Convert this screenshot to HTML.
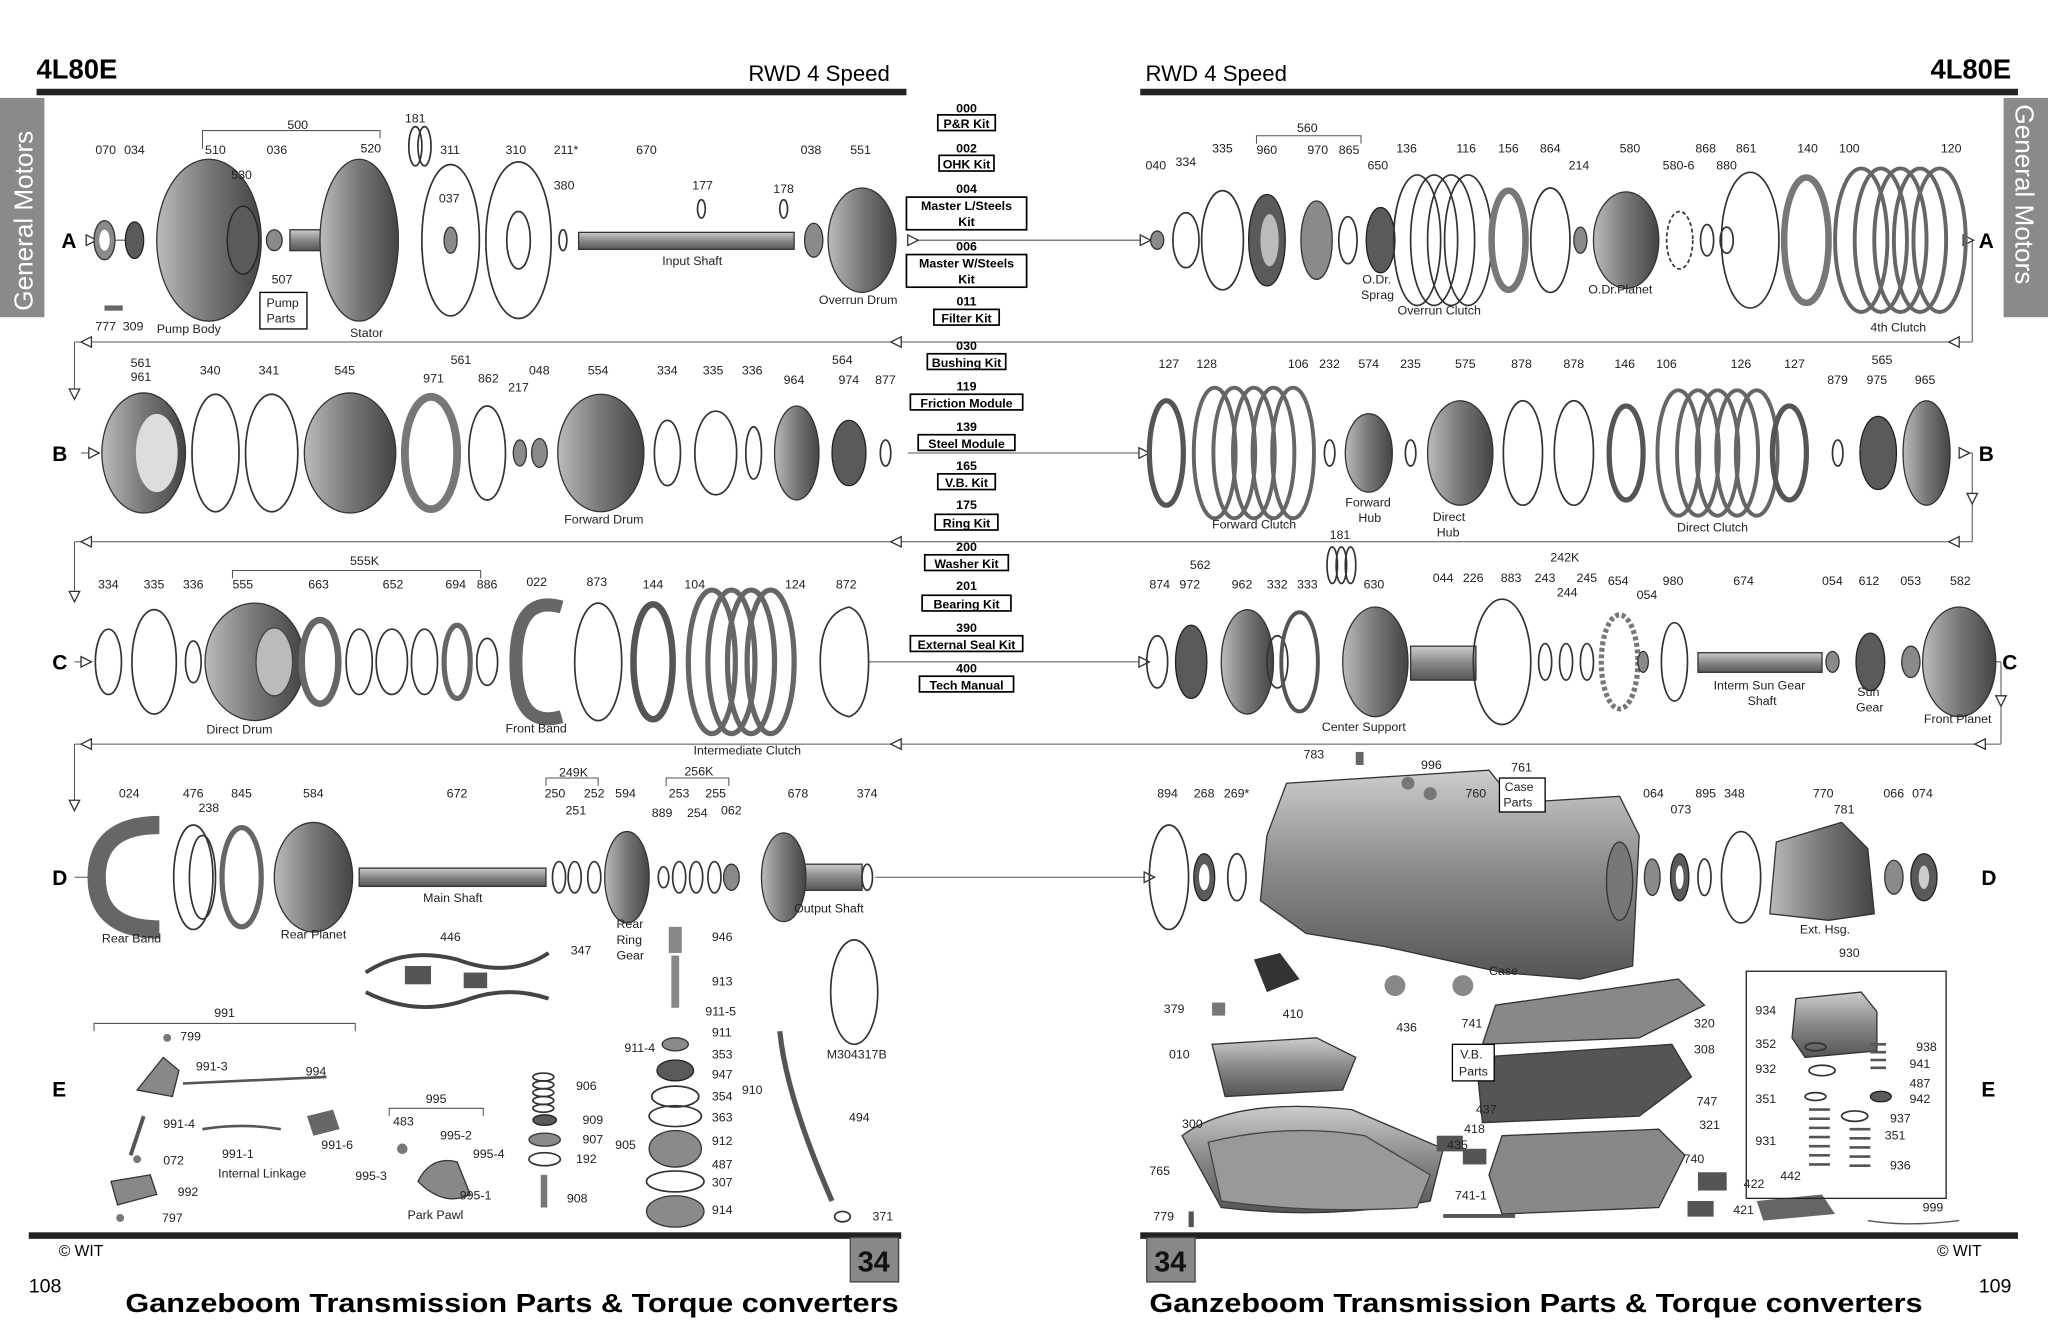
<!DOCTYPE html>
<html><head><meta charset="utf-8"><style>
html,body{margin:0;padding:0;background:#fff}
svg{display:block}
text{font-family:"Liberation Sans",sans-serif}
.n{font-size:9.5px;fill:#222}
.k{font-size:9.5px;font-weight:bold;fill:#000}
.r{fill:none;stroke:#333;stroke-width:1.3}
.g{fill:#8a8a8a;stroke:#333;stroke-width:1}
.d{fill:#5a5a5a;stroke:#222;stroke-width:1}
.l{fill:none;stroke:#555;stroke-width:0.8}
.t{font-size:9px;fill:#222}
</style></head><body>
<svg width="2048" height="1325" viewBox="0 0 1568 1015" preserveAspectRatio="none" xmlns="http://www.w3.org/2000/svg">
<defs>
<linearGradient id="gr" x1="0" x2="1"><stop offset="0" stop-color="#bbb"/><stop offset=".5" stop-color="#777"/><stop offset="1" stop-color="#444"/></linearGradient>
<linearGradient id="gs" x1="0" y1="0" x2="0" y2="1"><stop offset="0" stop-color="#ccc"/><stop offset=".5" stop-color="#888"/><stop offset="1" stop-color="#555"/></linearGradient>
</defs>
<rect width="1568" height="1015" fill="#fff"/>
<!-- headers -->
<text x="28" y="60" font-size="21" font-weight="bold">4L80E</text>
<text x="573" y="62" font-size="17">RWD 4 Speed</text>
<text x="877" y="62" font-size="17">RWD 4 Speed</text>
<text x="1478" y="60" font-size="21" font-weight="bold">4L80E</text>
<rect x="28" y="68" width="666" height="5" fill="#222"/>
<rect x="873" y="68" width="672" height="5" fill="#222"/>
<rect x="0" y="75" width="34" height="168" fill="#8a8a8a"/>
<text transform="translate(25,238) rotate(-90)" font-size="20" fill="#fff">General Motors</text>
<rect x="1534" y="75" width="34" height="168" fill="#8a8a8a"/>
<text transform="translate(1543,80) rotate(90)" font-size="20" fill="#fff">General Motors</text>
<!-- row letters -->
<g font-size="16" font-weight="bold">
<text x="47" y="190">A</text><text x="40" y="353">B</text><text x="40" y="513">C</text><text x="40" y="678">D</text><text x="40" y="840">E</text>
<text x="1515" y="190">A</text><text x="1515" y="353">B</text><text x="1533" y="513">C</text><text x="1517" y="678">D</text><text x="1517" y="840">E</text>
</g>
<!-- flow lines -->
<g class="l" stroke="#444">
<line x1="68" y1="184" x2="100" y2="184"/>
<line x1="695" y1="184" x2="880" y2="184"/>
<line x1="1503" y1="184" x2="1510" y2="184"/><line x1="1510" y1="184" x2="1510" y2="262"/>
<line x1="57" y1="262" x2="1510" y2="262"/><line x1="57" y1="262" x2="57" y2="300"/>
<line x1="62" y1="347" x2="75" y2="347"/><line x1="695" y1="347" x2="878" y2="347"/>
<line x1="1500" y1="347" x2="1510" y2="347"/><line x1="1510" y1="347" x2="1510" y2="415"/>
<line x1="57" y1="415" x2="1510" y2="415"/><line x1="57" y1="415" x2="57" y2="455"/>
<line x1="57" y1="507" x2="70" y2="507"/><line x1="665" y1="507" x2="878" y2="507"/>
<line x1="1525" y1="507" x2="1532" y2="507"/><line x1="1532" y1="507" x2="1532" y2="570"/>
<line x1="57" y1="570" x2="1532" y2="570"/><line x1="57" y1="570" x2="57" y2="615"/>
<line x1="57" y1="672" x2="70" y2="672"/><line x1="670" y1="672" x2="882" y2="672"/>
</g>
<g fill="#fff" stroke="#333" stroke-width="1">
<path d="M873 180 l8 4 l-8 4z"/><path d="M695 180 l8 4 l-8 4z"/>
<path d="M66 180 l8 4 l-8 4z"/><path d="M1503 180 l8 4 l-8 4z"/>
<path d="M53 298 l4 8 l4 -8z"/><path d="M1506 378 l4 8 l4 -8z"/>
<path d="M68 343 l8 4 l-8 4z"/><path d="M872 343 l8 4 l-8 4z"/><path d="M1500 343 l8 4 l-8 4z"/>
<path d="M53 453 l4 8 l4 -8z"/><path d="M1528 533 l4 8 l4 -8z"/>
<path d="M62 503 l8 4 l-8 4z"/><path d="M872 503 l8 4 l-8 4z"/><path d="M1518 503 l8 4 l-8 4z"/>
<path d="M53 613 l4 8 l4 -8z"/><path d="M68 668 l8 4 l-8 4z"/><path d="M876 668 l8 4 l-8 4z"/>
<path d="M1500 258 l-8 4 l8 4z"/><path d="M690 258 l-8 4 l8 4z"/><path d="M70 258 l-8 4 l8 4z"/>
<path d="M1500 411 l-8 4 l8 4z"/><path d="M690 411 l-8 4 l8 4z"/><path d="M70 411 l-8 4 l8 4z"/>
<path d="M1520 566 l-8 4 l8 4z"/><path d="M690 566 l-8 4 l8 4z"/><path d="M70 566 l-8 4 l8 4z"/>
</g>
<!-- kit boxes -->
<g text-anchor="middle">
<text class="k" x="740" y="86">000</text><rect x="718" y="88" width="44" height="12" fill="#fff" stroke="#000" stroke-width="1.3"/><text class="k" x="740" y="98">P&amp;R Kit</text>
<text class="k" x="740" y="117">002</text><rect x="719" y="119" width="42" height="12" fill="#fff" stroke="#000" stroke-width="1.3"/><text class="k" x="740" y="129">OHK Kit</text>
<text class="k" x="740" y="148">004</text><rect x="694" y="151" width="92" height="25" fill="#fff" stroke="#000" stroke-width="1.3"/><text class="k" x="740" y="161">Master L/Steels</text><text class="k" x="740" y="173">Kit</text>
<text class="k" x="740" y="192">006</text><rect x="694" y="195" width="92" height="25" fill="#fff" stroke="#000" stroke-width="1.3"/><text class="k" x="740" y="205">Master W/Steels</text><text class="k" x="740" y="217">Kit</text>
<text class="k" x="740" y="234">011</text><rect x="715" y="237" width="50" height="12" fill="#fff" stroke="#000" stroke-width="1.3"/><text class="k" x="740" y="247">Filter Kit</text>
<text class="k" x="740" y="268">030</text><rect x="710" y="271" width="60" height="12" fill="#fff" stroke="#000" stroke-width="1.3"/><text class="k" x="740" y="281">Bushing Kit</text>
<text class="k" x="740" y="299">119</text><rect x="697" y="302" width="86" height="12" fill="#fff" stroke="#000" stroke-width="1.3"/><text class="k" x="740" y="312">Friction Module</text>
<text class="k" x="740" y="330">139</text><rect x="703" y="333" width="74" height="12" fill="#fff" stroke="#000" stroke-width="1.3"/><text class="k" x="740" y="343">Steel Module</text>
<text class="k" x="740" y="360">165</text><rect x="718" y="363" width="44" height="12" fill="#fff" stroke="#000" stroke-width="1.3"/><text class="k" x="740" y="373">V.B. Kit</text>
<text class="k" x="740" y="390">175</text><rect x="716" y="394" width="48" height="12" fill="#fff" stroke="#000" stroke-width="1.3"/><text class="k" x="740" y="404">Ring Kit</text>
<text class="k" x="740" y="422">200</text><rect x="708" y="425" width="64" height="12" fill="#fff" stroke="#000" stroke-width="1.3"/><text class="k" x="740" y="435">Washer Kit</text>
<text class="k" x="740" y="452">201</text><rect x="706" y="456" width="68" height="12" fill="#fff" stroke="#000" stroke-width="1.3"/><text class="k" x="740" y="466">Bearing Kit</text>
<text class="k" x="740" y="484">390</text><rect x="697" y="487" width="86" height="12" fill="#fff" stroke="#000" stroke-width="1.3"/><text class="k" x="740" y="497">External Seal Kit</text>
<text class="k" x="740" y="515">400</text><rect x="704" y="518" width="72" height="12" fill="#fff" stroke="#000" stroke-width="1.3"/><text class="k" x="740" y="528">Tech Manual</text>
</g>

<!-- ROW A left -->
<ellipse class="g" cx="80" cy="184" rx="8" ry="15"/><ellipse cx="80" cy="184" rx="4" ry="8" fill="#fff"/>
<ellipse class="d" cx="103" cy="184" rx="7" ry="14"/>
<ellipse cx="160" cy="184" rx="40" ry="62" fill="url(#gr)" stroke="#333"/>
<ellipse class="d" cx="186" cy="184" rx="12" ry="26"/>
<ellipse class="g" cx="210" cy="184" rx="6" ry="8"/>
<rect x="222" y="176" width="40" height="16" fill="url(#gs)" stroke="#333"/>
<ellipse cx="275" cy="184" rx="30" ry="62" fill="url(#gr)" stroke="#333"/>
<ellipse class="r" cx="318" cy="112" rx="5" ry="15"/><ellipse class="r" cx="325" cy="112" rx="5" ry="15"/>
<ellipse class="r" cx="345" cy="184" rx="22" ry="58"/><ellipse class="g" cx="345" cy="184" rx="5" ry="10"/>
<ellipse class="r" cx="397" cy="184" rx="25" ry="60"/><ellipse class="r" cx="397" cy="184" rx="9" ry="22"/>
<ellipse class="r" cx="431" cy="184" rx="3" ry="8"/>
<rect x="443" y="178" width="165" height="13" fill="url(#gs)" stroke="#333"/>
<ellipse class="r" cx="537" cy="160" rx="3" ry="7"/><ellipse class="r" cx="600" cy="160" rx="3" ry="7"/>
<ellipse class="g" cx="623" cy="184" rx="7" ry="13"/>
<ellipse cx="660" cy="184" rx="26" ry="40" fill="url(#gr)" stroke="#333"/>
<rect x="80" y="234" width="14" height="4" fill="#666"/>
<rect x="199" y="224" width="36" height="28" fill="#fff" stroke="#000"/>
<g class="n">
<text x="73" y="118">070</text><text x="95" y="118">034</text><text x="220" y="99">500</text>
<text x="157" y="118">510</text><text x="177" y="137">530</text><text x="204" y="118">036</text><text x="276" y="117">520</text>
<text x="310" y="94">181</text><text x="337" y="118">311</text><text x="336" y="155">037</text><text x="387" y="118">310</text><text x="424" y="118">211*</text>
<text x="424" y="145">380</text><text x="487" y="118">670</text><text x="530" y="145">177</text><text x="592" y="148">178</text>
<text x="613" y="118">038</text><text x="651" y="118">551</text>
<text x="208" y="217">507</text><text x="204" y="235">Pump</text><text x="204" y="247">Parts</text>
<text x="73" y="253">777</text><text x="94" y="253">309</text><text x="120" y="255">Pump Body</text><text x="268" y="258">Stator</text>
<text x="507" y="203">Input Shaft</text><text x="627" y="233">Overrun Drum</text>
</g>
<path class="l" d="M155 106 v-6 h136 v6 M155 106v8"/>

<!-- ROW A right -->
<ellipse class="g" cx="886" cy="184" rx="5" ry="7"/>
<ellipse class="r" cx="908" cy="184" rx="10" ry="21"/>
<ellipse class="r" cx="936" cy="184" rx="16" ry="38"/>
<ellipse class="d" cx="970" cy="184" rx="14" ry="35"/><ellipse cx="972" cy="184" rx="7" ry="20" fill="#bbb"/>
<ellipse class="g" cx="1008" cy="184" rx="12" ry="30"/>
<ellipse class="r" cx="1032" cy="184" rx="7" ry="18"/>
<ellipse class="d" cx="1057" cy="184" rx="11" ry="25"/>
<g class="r"><ellipse cx="1085" cy="184" rx="18" ry="50"/><ellipse cx="1098" cy="184" rx="18" ry="50"/><ellipse cx="1111" cy="184" rx="18" ry="50"/><ellipse cx="1124" cy="184" rx="18" ry="50"/></g>
<ellipse fill="none" stroke="#777" stroke-width="5" cx="1155" cy="184" rx="13" ry="38"/>
<ellipse class="r" cx="1187" cy="184" rx="15" ry="40"/>
<ellipse class="g" cx="1210" cy="184" rx="5" ry="10"/>
<ellipse cx="1245" cy="184" rx="25" ry="37" fill="url(#gr)" stroke="#333"/>
<ellipse class="r" cx="1286" cy="184" rx="10" ry="22" stroke-dasharray="3 2"/>
<ellipse class="r" cx="1307" cy="184" rx="5" ry="12"/><ellipse class="r" cx="1322" cy="184" rx="5" ry="10"/>
<ellipse class="r" cx="1340" cy="184" rx="22" ry="52"/>
<ellipse fill="none" stroke="#777" stroke-width="5" cx="1383" cy="184" rx="17" ry="48"/>
<g fill="none" stroke="#666" stroke-width="3"><ellipse cx="1425" cy="184" rx="20" ry="55"/><ellipse cx="1440" cy="184" rx="20" ry="55"/><ellipse cx="1455" cy="184" rx="20" ry="55"/><ellipse cx="1470" cy="184" rx="20" ry="55"/><ellipse cx="1485" cy="184" rx="20" ry="55"/></g>
<g class="n">
<text x="877" y="130">040</text><text x="900" y="127">334</text><text x="928" y="117">335</text><text x="993" y="101">560</text>
<text x="962" y="118">960</text><text x="1001" y="118">970</text><text x="1025" y="118">865</text><text x="1047" y="130">650</text>
<text x="1069" y="117">136</text><text x="1115" y="117">116</text><text x="1147" y="117">156</text><text x="1179" y="117">864</text>
<text x="1201" y="130">214</text><text x="1240" y="117">580</text><text x="1273" y="130">580-6</text><text x="1298" y="117">868</text>
<text x="1314" y="130">880</text><text x="1329" y="117">861</text><text x="1376" y="117">140</text><text x="1408" y="117">100</text><text x="1486" y="117">120</text>
<text x="1043" y="217">O.Dr.</text><text x="1042" y="229">Sprag</text><text x="1070" y="241">Overrun Clutch</text>
<text x="1216" y="225">O.Dr.Planet</text><text x="1432" y="254">4th Clutch</text>
</g>
<path class="l" d="M962 110 v-6 h80 v6"/>

<!-- ROW B left -->
<ellipse cx="110" cy="347" rx="32" ry="46" fill="url(#gr)" stroke="#333"/><ellipse cx="120" cy="347" rx="16" ry="30" fill="#ddd"/>
<ellipse class="r" cx="165" cy="347" rx="18" ry="45"/>
<ellipse class="r" cx="208" cy="347" rx="20" ry="45"/>
<ellipse cx="268" cy="347" rx="35" ry="46" fill="url(#gr)" stroke="#333"/>
<ellipse fill="none" stroke="#777" stroke-width="6" cx="330" cy="347" rx="20" ry="43"/>
<ellipse class="r" cx="373" cy="347" rx="14" ry="36"/>
<ellipse class="g" cx="398" cy="347" rx="5" ry="10"/><ellipse class="g" cx="413" cy="347" rx="6" ry="11"/>
<ellipse cx="460" cy="347" rx="33" ry="45" fill="url(#gr)" stroke="#333"/>
<ellipse class="r" cx="511" cy="347" rx="10" ry="25"/>
<ellipse class="r" cx="548" cy="347" rx="16" ry="32"/>
<ellipse class="r" cx="577" cy="347" rx="6" ry="20"/>
<ellipse cx="610" cy="347" rx="17" ry="36" fill="url(#gr)" stroke="#333"/>
<ellipse class="d" cx="650" cy="347" rx="13" ry="25"/>
<ellipse class="r" cx="678" cy="347" rx="4" ry="10"/>
<g class="n">
<text x="100" y="281">561</text><text x="100" y="292">961</text><text x="153" y="287">340</text><text x="198" y="287">341</text>
<text x="256" y="287">545</text><text x="345" y="279">561</text><text x="324" y="293">971</text><text x="366" y="293">862</text><text x="389" y="300">217</text>
<text x="405" y="287">048</text><text x="450" y="287">554</text><text x="503" y="287">334</text><text x="538" y="287">335</text><text x="568" y="287">336</text>
<text x="637" y="279">564</text><text x="600" y="294">964</text><text x="642" y="294">974</text><text x="670" y="294">877</text>
<text x="432" y="401">Forward Drum</text>
</g>
<!-- ROW B right -->
<ellipse fill="none" stroke="#555" stroke-width="4" cx="893" cy="347" rx="13" ry="40"/>
<g fill="none" stroke="#666" stroke-width="3"><ellipse cx="930" cy="347" rx="16" ry="50"/><ellipse cx="945" cy="347" rx="16" ry="50"/><ellipse cx="960" cy="347" rx="16" ry="50"/><ellipse cx="975" cy="347" rx="16" ry="50"/><ellipse cx="990" cy="347" rx="16" ry="50"/></g>
<ellipse class="r" cx="1018" cy="347" rx="4" ry="10"/>
<ellipse cx="1048" cy="347" rx="18" ry="30" fill="url(#gr)" stroke="#333"/>
<ellipse class="r" cx="1080" cy="347" rx="4" ry="10"/>
<ellipse cx="1118" cy="347" rx="25" ry="40" fill="url(#gr)" stroke="#333"/>
<ellipse class="r" cx="1166" cy="347" rx="15" ry="40"/><ellipse class="r" cx="1205" cy="347" rx="15" ry="40"/>
<ellipse fill="none" stroke="#555" stroke-width="4" cx="1245" cy="347" rx="13" ry="36"/>
<g fill="none" stroke="#666" stroke-width="3"><ellipse cx="1285" cy="347" rx="16" ry="48"/><ellipse cx="1300" cy="347" rx="16" ry="48"/><ellipse cx="1315" cy="347" rx="16" ry="48"/><ellipse cx="1330" cy="347" rx="16" ry="48"/><ellipse cx="1345" cy="347" rx="16" ry="48"/></g>
<ellipse fill="none" stroke="#555" stroke-width="4" cx="1370" cy="347" rx="13" ry="36"/>
<ellipse class="r" cx="1407" cy="347" rx="4" ry="10"/>
<ellipse class="d" cx="1438" cy="347" rx="14" ry="28"/>
<ellipse cx="1475" cy="347" rx="18" ry="40" fill="url(#gr)" stroke="#333"/>
<g class="n">
<text x="887" y="282">127</text><text x="916" y="282">128</text><text x="986" y="282">106</text><text x="1010" y="282">232</text><text x="1040" y="282">574</text>
<text x="1072" y="282">235</text><text x="1114" y="282">575</text><text x="1157" y="282">878</text><text x="1197" y="282">878</text><text x="1236" y="282">146</text>
<text x="1268" y="282">106</text><text x="1325" y="282">126</text><text x="1366" y="282">127</text><text x="1433" y="279">565</text>
<text x="1399" y="294">879</text><text x="1429" y="294">975</text><text x="1466" y="294">965</text>
<text x="928" y="405">Forward Clutch</text><text x="1030" y="388">Forward</text><text x="1040" y="400">Hub</text>
<text x="1097" y="399">Direct</text><text x="1100" y="411">Hub</text><text x="1284" y="407">Direct Clutch</text>
</g>

<!-- ROW C left -->
<ellipse class="r" cx="83" cy="507" rx="10" ry="25"/>
<ellipse class="r" cx="118" cy="507" rx="17" ry="40"/>
<ellipse class="r" cx="148" cy="507" rx="6" ry="16"/>
<ellipse cx="195" cy="507" rx="38" ry="45" fill="url(#gr)" stroke="#333"/><ellipse cx="210" cy="507" rx="14" ry="26" fill="#bbb" stroke="#444"/>
<ellipse fill="none" stroke="#666" stroke-width="5" cx="245" cy="507" rx="14" ry="32"/>
<ellipse class="r" cx="275" cy="507" rx="10" ry="25"/><ellipse class="r" cx="300" cy="507" rx="12" ry="25"/><ellipse class="r" cx="325" cy="507" rx="10" ry="25"/>
<ellipse fill="none" stroke="#666" stroke-width="4" cx="350" cy="507" rx="10" ry="28"/>
<ellipse class="r" cx="373" cy="507" rx="8" ry="18"/>
<path d="M430 465 q-35 -10 -35 42 q0 52 35 42" fill="none" stroke="#666" stroke-width="10"/>
<ellipse class="r" cx="458" cy="507" rx="18" ry="45"/>
<ellipse fill="none" stroke="#555" stroke-width="5" cx="500" cy="507" rx="15" ry="44"/>
<g fill="none" stroke="#666" stroke-width="4"><ellipse cx="545" cy="507" rx="18" ry="55"/><ellipse cx="560" cy="507" rx="18" ry="55"/><ellipse cx="575" cy="507" rx="18" ry="55"/><ellipse cx="590" cy="507" rx="18" ry="55"/></g>
<path d="M650 465 q-22 5 -22 42 q0 37 22 42 q15 -5 15 -42 q0 -37 -15 -42" fill="none" stroke="#333" stroke-width="1.3"/>
<g class="n">
<text x="75" y="451">334</text><text x="110" y="451">335</text><text x="140" y="451">336</text><text x="268" y="433">555K</text>
<text x="178" y="451">555</text><text x="236" y="451">663</text><text x="293" y="451">652</text><text x="341" y="451">694</text><text x="365" y="451">886</text>
<text x="403" y="449">022</text><text x="449" y="449">873</text><text x="492" y="451">144</text><text x="524" y="451">104</text><text x="601" y="451">124</text><text x="640" y="451">872</text>
<text x="158" y="562">Direct Drum</text><text x="387" y="561">Front Band</text><text x="531" y="578">Intermediate Clutch</text>
</g>
<path class="l" d="M178 443 v-6 h190 v6"/>
<!-- ROW C right -->
<ellipse class="r" cx="886" cy="507" rx="8" ry="20"/>
<ellipse class="d" cx="912" cy="507" rx="12" ry="28"/>
<ellipse cx="955" cy="507" rx="20" ry="40" fill="url(#gr)" stroke="#333"/>
<ellipse class="r" cx="978" cy="507" rx="8" ry="20"/>
<ellipse fill="none" stroke="#555" stroke-width="3" cx="995" cy="507" rx="14" ry="38"/>
<ellipse cx="1053" cy="507" rx="25" ry="42" fill="url(#gr)" stroke="#333"/>
<rect x="1080" y="495" width="50" height="26" fill="url(#gs)" stroke="#333"/>
<ellipse class="r" cx="1150" cy="507" rx="22" ry="48"/>
<ellipse class="r" cx="1183" cy="507" rx="5" ry="14"/><ellipse class="r" cx="1199" cy="507" rx="5" ry="14"/><ellipse class="r" cx="1215" cy="507" rx="5" ry="14"/>
<ellipse fill="none" stroke="#777" stroke-width="4" stroke-dasharray="3 2" cx="1240" cy="507" rx="14" ry="36"/>
<ellipse class="g" cx="1258" cy="507" rx="4" ry="8"/>
<ellipse class="r" cx="1282" cy="507" rx="10" ry="30"/>
<rect x="1300" y="500" width="95" height="15" fill="url(#gs)" stroke="#333"/>
<ellipse class="g" cx="1403" cy="507" rx="5" ry="8"/>
<ellipse class="d" cx="1432" cy="507" rx="11" ry="22"/>
<ellipse class="g" cx="1463" cy="507" rx="7" ry="12"/>
<ellipse cx="1500" cy="507" rx="28" ry="42" fill="url(#gr)" stroke="#333"/>
<g class="r"><ellipse cx="1020" cy="433" rx="4" ry="14"/><ellipse cx="1027" cy="433" rx="4" ry="14"/><ellipse cx="1034" cy="433" rx="4" ry="14"/></g>
<g class="n">
<text x="911" y="436">562</text><text x="880" y="451">874</text><text x="903" y="451">972</text><text x="943" y="451">962</text><text x="970" y="451">332</text>
<text x="993" y="451">333</text><text x="1018" y="413">181</text><text x="1044" y="451">630</text><text x="1097" y="446">044</text><text x="1120" y="446">226</text>
<text x="1149" y="446">883</text><text x="1187" y="430">242K</text><text x="1175" y="446">243</text><text x="1192" y="457">244</text><text x="1207" y="446">245</text>
<text x="1231" y="448">654</text><text x="1253" y="459">054</text><text x="1273" y="448">980</text><text x="1327" y="448">674</text>
<text x="1395" y="448">054</text><text x="1423" y="448">612</text><text x="1455" y="448">053</text><text x="1493" y="448">582</text>
<text x="1012" y="560">Center Support</text><text x="1312" y="528">Interm Sun Gear</text><text x="1338" y="540">Shaft</text>
<text x="1422" y="533">Sun</text><text x="1421" y="545">Gear</text><text x="1473" y="554">Front Planet</text>
</g>

<!-- ROW D left -->
<path d="M122 632 q-48 0 -48 40 q0 40 48 40" fill="none" stroke="#666" stroke-width="14"/>
<ellipse class="r" cx="148" cy="672" rx="15" ry="40"/><ellipse class="r" cx="155" cy="672" rx="10" ry="32"/>
<ellipse fill="none" stroke="#666" stroke-width="4" cx="185" cy="672" rx="15" ry="38"/>
<ellipse cx="240" cy="672" rx="30" ry="42" fill="url(#gr)" stroke="#333"/>
<rect x="275" y="665" width="143" height="14" fill="url(#gs)" stroke="#333"/>
<ellipse class="r" cx="428" cy="672" rx="5" ry="12"/><ellipse class="r" cx="440" cy="672" rx="5" ry="12"/><ellipse class="r" cx="455" cy="672" rx="5" ry="12"/>
<ellipse cx="480" cy="672" rx="17" ry="35" fill="url(#gr)" stroke="#333"/>
<ellipse class="r" cx="508" cy="672" rx="4" ry="8"/><ellipse class="r" cx="520" cy="672" rx="5" ry="12"/><ellipse class="r" cx="533" cy="672" rx="5" ry="12"/><ellipse class="r" cx="547" cy="672" rx="5" ry="12"/>
<ellipse class="g" cx="560" cy="672" rx="6" ry="10"/>
<rect x="600" y="662" width="60" height="20" fill="url(#gs)" stroke="#333"/>
<ellipse cx="600" cy="672" rx="17" ry="34" fill="url(#gr)" stroke="#333"/>
<ellipse class="r" cx="664" cy="672" rx="4" ry="10"/>
<g class="n">
<text x="91" y="611">024</text><text x="140" y="611">476</text><text x="152" y="622">238</text><text x="177" y="611">845</text><text x="232" y="611">584</text>
<text x="342" y="611">672</text><text x="428" y="595">249K</text><text x="417" y="611">250</text><text x="433" y="624">251</text><text x="447" y="611">252</text>
<text x="471" y="611">594</text><text x="524" y="594">256K</text><text x="499" y="626">889</text><text x="512" y="611">253</text><text x="526" y="626">254</text>
<text x="540" y="611">255</text><text x="552" y="624">062</text><text x="603" y="611">678</text><text x="656" y="611">374</text>
<text x="78" y="722">Rear Band</text><text x="215" y="719">Rear Planet</text><text x="324" y="691">Main Shaft</text>
<text x="472" y="711">Rear</text><text x="472" y="723">Ring</text><text x="472" y="735">Gear</text><text x="608" y="699">Output Shaft</text>
</g>
<path class="l" d="M418 602 v-6 h40 v6 M510 602 v-6 h48 v6"/>
<!-- ROW D right -->
<ellipse class="r" cx="895" cy="672" rx="15" ry="40"/>
<ellipse class="d" cx="922" cy="672" rx="8" ry="18"/><ellipse cx="922" cy="672" rx="4" ry="10" fill="#fff"/>
<ellipse class="r" cx="947" cy="672" rx="7" ry="18"/>
<path d="M985 600 L1140 590 L1160 615 L1240 610 L1255 640 L1250 740 L1210 750 L1150 745 L1060 725 L1000 715 L965 690 L970 640 Z" fill="url(#gs)" stroke="#333"/>
<ellipse cx="1240" cy="675" rx="10" ry="30" fill="#777" stroke="#333"/>
<ellipse class="g" cx="1265" cy="672" rx="6" ry="14"/>
<ellipse class="d" cx="1286" cy="672" rx="7" ry="18"/><ellipse cx="1286" cy="672" rx="3" ry="9" fill="#fff"/>
<ellipse class="r" cx="1305" cy="672" rx="5" ry="14"/>
<ellipse class="r" cx="1333" cy="672" rx="15" ry="35"/>
<path d="M1360 645 L1410 630 L1430 650 L1435 700 L1400 705 L1355 700 Z" fill="url(#gr)" stroke="#333"/>
<ellipse class="g" cx="1450" cy="672" rx="7" ry="13"/>
<ellipse class="d" cx="1473" cy="672" rx="10" ry="18"/><ellipse cx="1473" cy="672" rx="4" ry="9" fill="#ccc"/>
<rect x="1038" y="576" width="6" height="10" fill="#666"/>
<circle cx="1078" cy="600" r="5" fill="#777"/><circle cx="1095" cy="608" r="5" fill="#777"/>
<rect x="1148" y="596" width="35" height="26" fill="#fff" stroke="#000"/>
<g class="n">
<text x="998" y="581">783</text><text x="1088" y="589">996</text><text x="1157" y="591">761</text><text x="1152" y="606">Case</text><text x="1151" y="618">Parts</text>
<text x="886" y="611">894</text><text x="914" y="611">268</text><text x="937" y="611">269*</text><text x="1122" y="611">760</text>
<text x="1258" y="611">064</text><text x="1279" y="623">073</text><text x="1298" y="611">895</text><text x="1320" y="611">348</text>
<text x="1388" y="611">770</text><text x="1404" y="623">781</text><text x="1442" y="611">066</text><text x="1464" y="611">074</text>
<text x="1378" y="715">Ext. Hsg.</text><text x="1140" y="747">Case</text>
</g>

<!-- ROW E left -->
<path d="M280 745 q30 -20 70 -10 q40 15 70 -5 M280 760 q40 20 80 5 q30 -10 60 0" fill="none" stroke="#444" stroke-width="3"/>
<rect x="310" y="740" width="20" height="14" fill="#555"/><rect x="355" y="745" width="18" height="12" fill="#555"/>
<path class="l" d="M72 790 v-6 h200 v6"/>
<path d="M105 835 l20 -25 l12 10 l-5 20 z" fill="#888" stroke="#333"/>
<path d="M140 830 l110 -5" stroke="#555" stroke-width="2"/><path d="M155 865 q30 -5 60 0" stroke="#555" fill="none" stroke-width="2"/>
<path d="M100 885 l10 -30" stroke="#555" stroke-width="3"/>
<path d="M235 855 l20 -5 l5 15 l-20 5z" fill="#666"/>
<path d="M85 905 l30 -5 l5 15 l-30 8z" fill="#888" stroke="#333"/>
<circle cx="128" cy="795" r="3" fill="#777"/><circle cx="105" cy="888" r="3" fill="#777"/><circle cx="92" cy="933" r="3" fill="#777"/>
<path class="l" d="M298 855 v-6 h72 v6"/>
<path d="M320 905 q10 -20 30 -15 l10 25 q-20 10 -40 -10z" fill="#888" stroke="#333"/>
<circle cx="308" cy="880" r="4" fill="#777"/>
<g class="r"><ellipse cx="416" cy="825" rx="8" ry="3"/><ellipse cx="416" cy="831" rx="8" ry="3"/><ellipse cx="416" cy="837" rx="8" ry="3"/><ellipse cx="416" cy="843" rx="8" ry="3"/><ellipse cx="416" cy="849" rx="8" ry="3"/></g>
<ellipse class="d" cx="417" cy="858" rx="9" ry="4"/><ellipse class="g" cx="417" cy="873" rx="12" ry="5"/><ellipse class="r" cx="417" cy="888" rx="12" ry="5"/>
<rect x="414" y="900" width="5" height="25" fill="#777"/>
<rect x="512" y="710" width="10" height="20" fill="#888"/><rect x="514" y="732" width="6" height="40" fill="#888"/>
<ellipse class="g" cx="517" cy="800" rx="10" ry="5"/><ellipse class="d" cx="517" cy="820" rx="14" ry="8"/>
<ellipse class="r" cx="517" cy="840" rx="18" ry="8"/><ellipse class="r" cx="517" cy="855" rx="20" ry="8"/>
<ellipse class="g" cx="517" cy="880" rx="20" ry="14"/><ellipse class="r" cx="517" cy="905" rx="22" ry="8"/>
<ellipse class="g" cx="517" cy="928" rx="22" ry="12"/>
<path d="M597 790 q5 50 40 130" stroke="#555" stroke-width="4" fill="none"/>
<ellipse class="r" cx="654" cy="760" rx="18" ry="40"/>
<ellipse class="r" cx="645" cy="932" rx="6" ry="4"/>
<g class="n">
<text x="337" y="721">446</text><text x="437" y="731">347</text><text x="164" y="779">991</text><text x="138" y="797">799</text>
<text x="150" y="820">991-3</text><text x="234" y="824">994</text><text x="125" y="864">991-4</text><text x="170" y="887">991-1</text>
<text x="167" y="902">Internal Linkage</text><text x="246" y="880">991-6</text><text x="125" y="892">072</text>
<text x="136" y="916">992</text><text x="124" y="936">797</text>
<text x="326" y="845">995</text><text x="301" y="862">483</text><text x="337" y="873">995-2</text><text x="362" y="887">995-4</text>
<text x="272" y="904">995-3</text><text x="352" y="919">995-1</text><text x="312" y="934">Park Pawl</text>
<text x="441" y="835">906</text><text x="446" y="861">909</text><text x="446" y="876">907</text><text x="441" y="891">192</text>
<text x="434" y="921">908</text><text x="471" y="880">905</text>
<text x="545" y="721">946</text><text x="545" y="755">913</text><text x="540" y="778">911-5</text><text x="545" y="794">911</text>
<text x="478" y="806">911-4</text><text x="545" y="811">353</text><text x="545" y="826">947</text><text x="545" y="843">354</text>
<text x="545" y="859">363</text><text x="568" y="838">910</text><text x="545" y="877">912</text><text x="545" y="895">487</text>
<text x="545" y="909">307</text><text x="545" y="930">914</text><text x="633" y="811">M304317B</text>
<text x="650" y="859">494</text><text x="668" y="935">371</text>
</g>
<!-- ROW E right -->
<path d="M960 735 l20 -5 l15 20 l-25 10z" fill="#333"/>
<rect x="928" y="768" width="10" height="10" fill="#777"/>
<path d="M928 800 l80 -5 l30 15 l-10 25 l-90 5z" fill="url(#gs)" stroke="#333"/>
<path d="M905 870 q40 -30 130 -20 l70 30 l-10 40 q-80 15 -160 5z" fill="url(#gs)" stroke="#333"/>
<path d="M925 875 q60 -15 120 -5 l50 30 l-10 25 q-80 5 -150 -5z" fill="#999" stroke="#444"/>
<circle cx="1068" cy="755" r="8" fill="#888"/><circle cx="1120" cy="755" r="8" fill="#888"/>
<path d="M1145 770 l140 -20 l20 20 l-50 25 l-120 5z" fill="#888" stroke="#333"/>
<path d="M1130 810 l150 -10 l15 25 l-40 30 l-120 5z" fill="#555" stroke="#333"/>
<path d="M1150 870 l120 -5 l20 20 l-20 40 l-120 5 l-10 -30z" fill="#888" stroke="#333"/>
<rect x="1112" y="800" width="32" height="28" fill="#fff" stroke="#000"/>
<rect x="1100" y="870" width="20" height="12" fill="#555"/><rect x="1120" y="880" width="18" height="12" fill="#555"/>
<rect x="1300" y="898" width="22" height="14" fill="#555"/><rect x="1292" y="920" width="20" height="12" fill="#555"/>
<path d="M1345 920 l50 -5 l10 15 l-55 5z" fill="#666"/>
<rect x="1337" y="744" width="153" height="174" fill="none" stroke="#222" stroke-width="1"/>
<path d="M1375 765 l50 -5 l12 15 l0 30 l-55 5 l-10 -15z" fill="url(#gs)" stroke="#333"/>
<g class="r"><ellipse cx="1390" cy="802" rx="8" ry="3"/><ellipse cx="1395" cy="820" rx="10" ry="4"/><ellipse cx="1390" cy="840" rx="8" ry="3"/></g>
<g fill="none" stroke="#555" stroke-width="2"><path d="M1385 850 h16 M1385 857 h16 M1385 864 h16 M1385 871 h16 M1385 878 h16 M1385 885 h16 M1385 892 h16"/>
<path d="M1416 865 h16 M1416 872 h16 M1416 879 h16 M1416 886 h16 M1416 893 h16"/><path d="M1432 800 h12 M1432 806 h12 M1432 812 h12 M1432 818 h12"/></g>
<ellipse class="d" cx="1440" cy="840" rx="8" ry="4"/><ellipse class="r" cx="1420" cy="855" rx="10" ry="4"/>
<path d="M1430 935 q30 5 70 0" stroke="#555" fill="none"/>
<rect x="1105" y="930" width="55" height="3" fill="#555"/><rect x="910" y="928" width="4" height="12" fill="#555"/>
<g class="n">
<text x="891" y="776">379</text><text x="982" y="780">410</text><text x="1069" y="790">436</text><text x="895" y="811">010</text>
<text x="1119" y="787">741</text><text x="1118" y="811">V.B.</text><text x="1117" y="824">Parts</text>
<text x="1297" y="787">320</text><text x="1297" y="807">308</text><text x="1299" y="847">747</text><text x="1130" y="853">437</text>
<text x="1121" y="868">418</text><text x="1108" y="880">435</text><text x="1301" y="865">321</text><text x="1289" y="891">740</text>
<text x="1335" y="910">422</text><text x="1327" y="930">421</text><text x="1114" y="919">741-1</text>
<text x="905" y="864">300</text><text x="880" y="900">765</text><text x="883" y="935">779</text>
<text x="1408" y="733">930</text><text x="1344" y="777">934</text><text x="1344" y="803">352</text><text x="1467" y="805">938</text>
<text x="1344" y="822">932</text><text x="1462" y="818">941</text><text x="1462" y="833">487</text><text x="1462" y="845">942</text>
<text x="1344" y="845">351</text><text x="1447" y="860">937</text><text x="1443" y="873">351</text><text x="1344" y="877">931</text>
<text x="1447" y="896">936</text><text x="1363" y="904">442</text><text x="1472" y="928">999</text>
</g>

<!-- footer -->
<rect x="22" y="944" width="668" height="5" fill="#222"/>
<rect x="873" y="944" width="672" height="5" fill="#222"/>
<text x="45" y="962" font-size="12">© WIT</text>
<text x="1483" y="962" font-size="12">© WIT</text>
<rect x="651" y="948" width="37" height="34" fill="#888" stroke="#444"/>
<text x="669" y="974" font-size="22" font-weight="bold" text-anchor="middle" fill="#111">34</text>
<rect x="878" y="948" width="37" height="34" fill="#888" stroke="#444"/>
<text x="896" y="974" font-size="22" font-weight="bold" text-anchor="middle" fill="#111">34</text>
<text x="22" y="990" font-size="15">108</text>
<text x="1515" y="990" font-size="15">109</text>
<text x="96" y="1005" font-size="20" font-weight="bold" textLength="592" lengthAdjust="spacingAndGlyphs">Ganzeboom Transmission Parts &amp; Torque converters</text>
<text x="880" y="1005" font-size="20" font-weight="bold" textLength="592" lengthAdjust="spacingAndGlyphs">Ganzeboom Transmission Parts &amp; Torque converters</text>
</svg>
</body></html>
